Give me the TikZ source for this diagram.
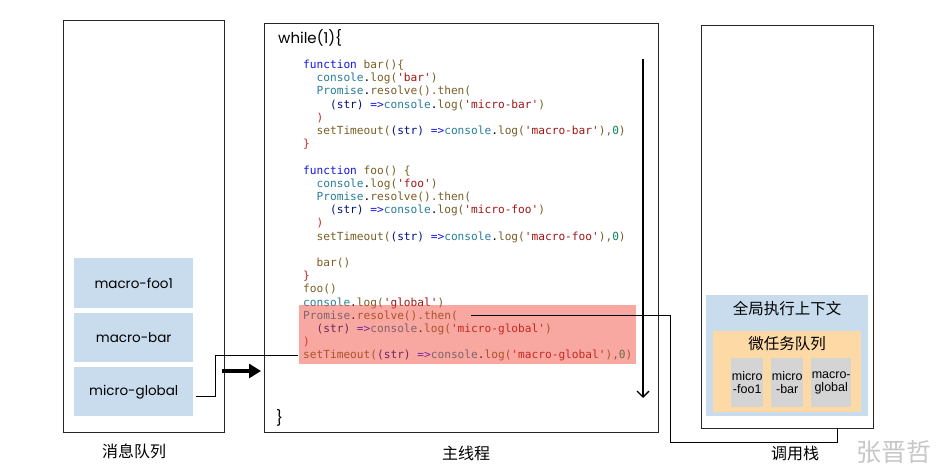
\documentclass[tikz,border=0pt]{standalone}
\usepackage{fontspec}
\setmainfont{Poppins}
\newfontfamily\codefont{DejaVu Sans Mono}
\newfontfamily\cjk{Noto Sans CJK SC}
\newfontfamily\helv{Liberation Sans}
\usetikzlibrary{arrows.meta}
\definecolor{ckw}{RGB}{20,20,230}
\definecolor{cfn}{RGB}{121,94,38}
\definecolor{cob}{RGB}{38,127,153}
\definecolor{cst}{RGB}{163,21,21}
\definecolor{cpa}{RGB}{0,16,128}
\definecolor{cnu}{RGB}{9,134,88}
\definecolor{crd}{RGB}{200,40,40}
\definecolor{qblue}{RGB}{201,220,238}
\definecolor{qorange}{RGB}{253,217,166}
\definecolor{qgray}{RGB}{212,212,212}
\definecolor{hlred}{RGB}{240,64,48}
\newcommand{\cK}[1]{\textcolor{ckw}{#1}}
\newcommand{\cF}[1]{\textcolor{cfn}{#1}}
\newcommand{\cO}[1]{\textcolor{cob}{#1}}
\newcommand{\cS}[1]{\textcolor{cst}{#1}}
\newcommand{\cP}[1]{\textcolor{cpa}{#1}}
\newcommand{\cN}[1]{\textcolor{cnu}{#1}}
\newcommand{\cR}[1]{\textcolor{crd}{#1}}
\begin{document}
\begin{tikzpicture}[x=1pt,y=-1pt,
  panel/.style={draw=black!85, line width=1.1pt, anchor=north west, inner sep=0pt},
  qbox/.style={fill=qblue, anchor=north west, inner sep=0pt, font=\fontsize{13.5}{15}\selectfont},
  gbox/.style={fill=qgray, anchor=north west, inner sep=0pt, align=center, font=\helv\fontsize{12.5}{13}\selectfont},
  code/.style={anchor=base west, inner sep=0pt, font=\codefont\fontsize{11.16}{13.2}\selectfont},
  captxt/.style={font=\cjk\fontsize{16}{18}\selectfont},
  conn/.style={draw=black, line width=1pt}]
\path[use as bounding box, fill=white] (0,0) rectangle (937,469);

% panels
\node[panel, minimum width=161pt, minimum height=412pt] (queue) at (63,20) {};
\node[panel, minimum width=394pt, minimum height=409pt] (main) at (264,23) {};
\node[panel, minimum width=172pt, minimum height=403pt] (stack) at (701,25) {};

% message queue boxes
\node[qbox, minimum width=119pt, minimum height=50pt] (mf) at (74,258) {macro-foo1};
\node[qbox, minimum width=119pt, minimum height=49pt] (mb) at (74,313) {macro-bar};
\node[qbox, minimum width=119pt, minimum height=49pt] (mg) at (74,367) {micro-global};

% call stack
\node[fill=qblue, anchor=north west, inner sep=0pt, minimum width=162pt, minimum height=121pt] (ctx) at (706,295) {};
\node[captxt, font=\cjk\fontsize{15.5}{17}\selectfont] (ctxl) at (787,309) {全局执行上下文};
\node[fill=qorange, anchor=north west, inner sep=0pt, minimum width=148pt, minimum height=81pt] (mq) at (713,331) {};
\node[captxt, font=\cjk\fontsize{15.5}{17}\selectfont] (mql) at (787,344) {微任务队列};
\node[gbox, minimum width=32pt, minimum height=49pt] (g1) at (731,358) {micro\\-foo1};
\node[gbox, minimum width=32pt, minimum height=49pt] (g2) at (771,358) {micro\\-bar};
\node[gbox, minimum width=40pt, minimum height=49pt] (g3) at (811,358) {macro-\\global};

% code
\node[anchor=west, inner sep=0pt, font=\fontsize{15}{16}\selectfont] (wh) at (278,38) {while(1)\{};
\node[code] (L0) at (303,68.5) {\cK{function} \cF{bar()\{}};
\node[code] (L1) at (316.44,81.7) {\cO{console}.\cF{log(}\cS{'bar'}\cF{)}};
\node[code] (L2) at (316.44,94.9) {\cO{Promise}.\cF{resolve().then(}};
\node[code] (L3) at (329.88,108.1) {\cP{(str)} \cK{=>}\cO{console}.\cF{log(}\cS{'micro-bar'}\cF{)}};
\node[code] (L4) at (316.44,121.3) {\cR{)}};
\node[code] (L5) at (316.44,134.5) {\cF{setTimeout(}\cP{(str)} \cK{=>}\cO{console}.\cF{log(}\cS{'macro-bar'}\cF{),}\cN{0}\cF{)}};
\node[code] (L6) at (303,147.7) {\cR{\}}};
\node[code] (L8) at (303,174.1) {\cK{function} \cF{foo() \{}};
\node[code] (L9) at (316.44,187.3) {\cO{console}.\cF{log(}\cS{'foo'}\cF{)}};
\node[code] (L10) at (316.44,200.5) {\cO{Promise}.\cF{resolve().then(}};
\node[code] (L11) at (329.88,213.7) {\cP{(str)} \cK{=>}\cO{console}.\cF{log(}\cS{'micro-foo'}\cF{)}};
\node[code] (L12) at (316.44,226.9) {\cR{)}};
\node[code] (L13) at (316.44,240.1) {\cF{setTimeout(}\cP{(str)} \cK{=>}\cO{console}.\cF{log(}\cS{'macro-foo'}\cF{),}\cN{0}\cF{)}};
\node[code] (L15) at (316.44,266.5) {\cF{bar()}};
\node[code] (L16) at (303,279.7) {\cR{\}}};
\node[code] (L17) at (303,292.9) {\cF{foo()}};
\node[code] (L18) at (303,306.1) {\cO{console}.\cF{log(}\cS{'global'}\cF{)}};
\node[code] (L19) at (303,319.3) {\cO{Promise}.\cF{resolve().then(}};
\node[code] (L20) at (316.44,332.5) {\cP{(str)} \cK{=>}\cO{console}.\cF{log(}\cS{'micro-global'}\cF{)}};
\node[code] (L21) at (303,345.7) {\cR{)}};
\node[code] (L22) at (303,358.9) {\cF{setTimeout(}\cP{(str)} \cK{=>}\cO{console}.\cF{log(}\cS{'macro-global'}\cF{),}\cN{0}\cF{)}};
\node[anchor=west, inner sep=0pt, font=\fontsize{15}{16}\selectfont] (rb) at (276,418) {\}};

% highlight
\node[fill=hlred, fill opacity=.45, anchor=north west, inner sep=0pt, minimum width=337pt, minimum height=59pt] (hl) at (299,305) {};

% vertical arrow
\coordinate (va1) at (643,59);
\coordinate (va2) at (643,398);
\draw[line width=1.6pt, -{Straight Barb[length=6pt,width=12pt,line width=1.4pt]}] (va1) -- (va2);

% thick arrow
\coordinate (ta1) at (222,371);
\coordinate (ta2) at (261,371);
\draw[line width=3.5pt, -{Triangle[length=12pt,width=14pt]}] (ta1) -- (ta2);

% connectors
\draw[conn] ([shift={(3,5)}]mg.east) -- ++(19,0) |- ([xshift=-5pt]L22.west);
\coordinate (sb) at (837,428);
\draw[conn] ([xshift=13pt]L19.east) -- ++(200,0) -- ++(0,127) -| (sb);

% captions
\node[captxt] (c1) at (134,451) {消息队列};
\node[captxt] (c2) at (466,453) {主线程};
\node[captxt] (c3) at (795,453) {调用栈};
\node[font=\cjk\fontsize{25}{27}\selectfont, text=black!22] (wm) at (894,452) {张晋哲};
\end{tikzpicture}
\end{document}
